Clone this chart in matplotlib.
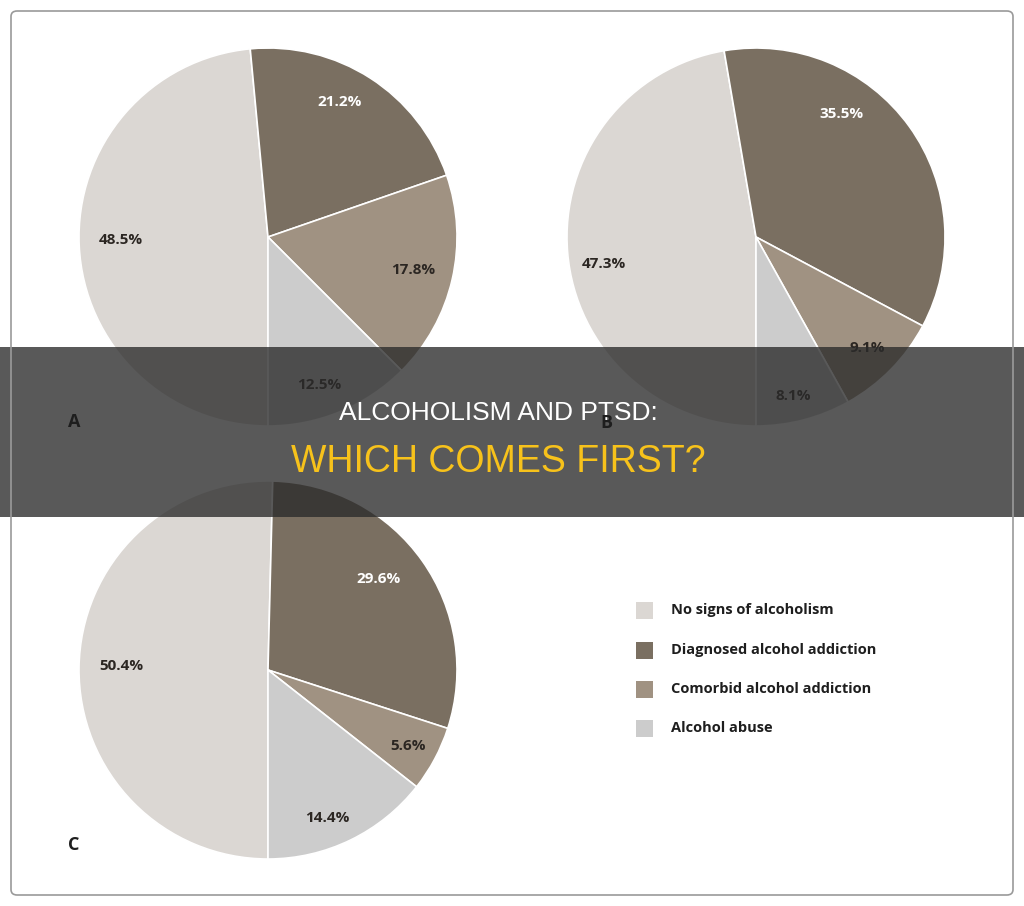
import matplotlib.pyplot as plt
from matplotlib.patches import FancyBboxPatch, Rectangle

# data
categories = ['No signs of alcoholism', 'Diagnosed alcohol addiction',
              'Comorbid alcohol addiction', 'Alcohol abuse']
vals_A = [48.5, 21.2, 17.8, 12.5]
vals_B = [47.3, 35.5, 9.1, 8.1]
vals_C = [50.4, 29.6, 5.6, 14.4]
panel_names = ['A', 'B', 'C']
title_1 = 'ALCOHOLISM AND PTSD:'
title_2 = 'WHICH COMES FIRST?'

colors = ['#dbd7d3', '#7a6f61', '#a09282', '#cccccc']
label_colors = ['#2b2622', 'white', '#2b2622', '#2b2622']

# where each % label sits inside its pie (pie radius = 1)
label_offsets = [
    [(-0.778, -0.016), (0.381, 0.714), (0.767, -0.175), (0.270, -0.783)],
    [(-0.804, -0.143), (0.455, 0.651), (0.587, -0.587), (0.196, -0.841)],
    [(-0.778, 0.021), (0.587, 0.481), (0.741, -0.402), (0.312, -0.783)],
]

W, H = 1024, 906
fig = plt.figure(figsize=(W/100, H/100), dpi=100)
fig.patch.set_facecolor('white')

def px_axes(cx, cy, r):
    # axes square around a pie centre given in pixels (y from top)
    return fig.add_axes([(cx-r)/W, (H-cy-r)/H, 2*r/W, 2*r/H])

pie_spots = [(268, 237), (756, 237), (268, 670)]
letter_spots = [(74, 422), (606, 423), (74, 845)]
R = 189

for vals, (cx, cy), name, (lx, ly), offs in zip([vals_A, vals_B, vals_C], pie_spots,
                                                panel_names, letter_spots, label_offsets):
    ax = px_axes(cx, cy, R)
    wedges, texts, autotexts = ax.pie(vals, colors=colors, startangle=-90,
                                      counterclock=False, autopct='%1.1f%%',
                                      pctdistance=0.8, radius=1.0,
                                      wedgeprops=dict(edgecolor='white', linewidth=1.2))
    for t, c, o in zip(autotexts, label_colors, offs):
        t.set_color(c)
        t.set_fontsize(11)
        t.set_fontweight('bold')
        t.set_family('Open Sans')
        t.set_position(o)
    ax.set_xlim(-1, 1)
    ax.set_ylim(-1, 1)
    ax.set_aspect('equal')
    fig.text(lx/W, 1-ly/H, name, fontsize=13, fontweight='bold', family='Open Sans',
             color='#1e1e1e', ha='center', va='center')

# legend
leg_y = [610, 650, 689, 728]
for lab, col, y in zip(categories, colors, leg_y):
    fig.patches.append(Rectangle(((636)/W, 1-(y+9)/H), 17/W, 17/H,
                                 transform=fig.transFigure, facecolor=col,
                                 edgecolor='none'))
    fig.text(671/W, 1-y/H, lab, fontsize=10.5, fontweight='bold', family='Open Sans',
             color='#1e1e1e', ha='left', va='center')

# frame
fig.patches.append(FancyBboxPatch((11/W, 1-895/H), 1002/W, 884/H,
                                  boxstyle='round,pad=0,rounding_size=0.006',
                                  transform=fig.transFigure, facecolor='none',
                                  edgecolor='#9a9a9a', linewidth=1.2, zorder=5))

# dark banner on top
ov = fig.add_axes([0, 0, 1, 1], facecolor='none')
ov.set_xlim(0, W)
ov.set_ylim(H, 0)
ov.axis('off')
ov.add_patch(Rectangle((0, 347), W, 170, facecolor='#2a2a2a', alpha=0.78,
                       edgecolor='none'))
ov.text(498, 420, title_1, fontsize=19, family='Liberation Sans', color='white',
        ha='center', va='baseline')
ov.text(498, 472, title_2, fontsize=27, family='Liberation Sans', color='#f7c21b',
        ha='center', va='baseline')

fig.savefig('out.png', dpi=100)
